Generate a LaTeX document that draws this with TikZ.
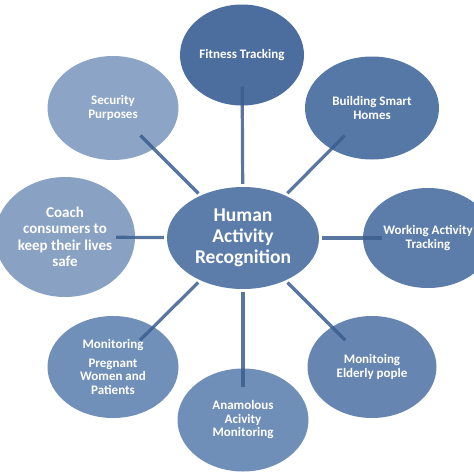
\documentclass[tikz,border=0pt]{standalone}
\usepackage{fontspec}
\setmainfont{Carlito}
\usetikzlibrary{shapes.geometric}
\definecolor{hubblue}{RGB}{92,125,170}
\definecolor{fitblue}{RGB}{76,110,158}
\definecolor{homeblue}{RGB}{86,120,166}
\definecolor{workblue}{RGB}{92,125,170}
\definecolor{elderblue}{RGB}{102,134,177}
\definecolor{anomblue}{RGB}{112,143,184}
\definecolor{pregblue}{RGB}{113,144,185}
\definecolor{secblue}{RGB}{140,165,198}
\definecolor{coachblue}{RGB}{137,162,196}
\definecolor{spokeblue}{RGB}{59,94,142}
\tikzset{bubble/.style={ellipse, inner sep=0pt, text=white, align=center,
    font=\bfseries\fontsize{13}{13.5}\selectfont},
  spoke/.style={draw=spokeblue, draw opacity=0.85, line width=3.2pt,
    shorten <=3pt, shorten >=-19pt}
}

\begin{document}
\begin{tikzpicture}[x=1pt,y=-1pt]
                \useasboundingbox (0,0) rectangle (474,474);
                
                % Hub
                \node[bubble, fill=hubblue, minimum width=152pt, minimum height=102pt,
                  font=\bfseries\fontsize{19.5}{21}\selectfont] (har) at (243,238) {Human\\Activity\\Recognition};
                
                % Outer bubbles
                \node[bubble, fill=fitblue, minimum width=124pt, minimum height=101pt] (fit) at (242,55) {Fitness Tracking};
                \node[bubble, fill=homeblue, minimum width=134pt, minimum height=103pt] (home) at (372,108) {Building Smart\\Homes};
                \node[bubble, fill=workblue, minimum width=130pt, minimum height=100pt] (work) at (428,238) {Working Activity\\Tracking};
                \node[bubble, fill=elderblue, minimum width=129pt, minimum height=102pt] (elder) at (372,367) {Monitoing\\Elderly pople};
                \node[bubble, fill=anomblue, minimum width=131pt, minimum height=103pt] (anom) at (243,420) {Anamolous\\Acivity\\Monitoring};
                \node[bubble, fill=pregblue, minimum width=131pt, minimum height=102pt] (preg) at (113,367) {Monitoring\\[5pt]Pregnant\\Women and\\Patients};
                \node[bubble, fill=coachblue, minimum width=140pt, minimum height=120pt,
                  font=\bfseries\fontsize{15}{16.5}\selectfont] (coach) at (65,237) {Coach\\consumers to\\keep their lives\\safe};
                \node[bubble, fill=secblue, minimum width=131pt, minimum height=104pt] (sec) at (113,108) {Security\\Purposes};
                
                % Spokes
                \foreach \n in {fit,home,work,elder,anom,preg,coach,sec}
                    \draw[spoke] (har) -- (\n);
            \end{tikzpicture}
\end{document}
